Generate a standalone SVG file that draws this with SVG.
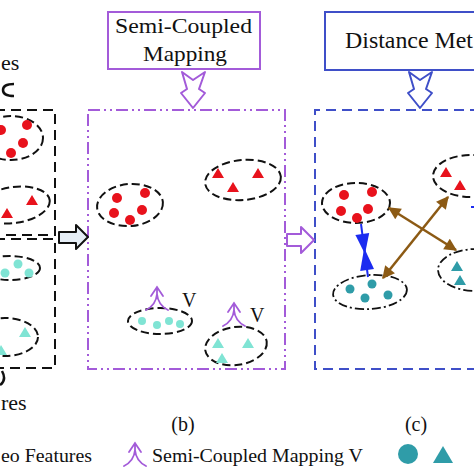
<svg xmlns="http://www.w3.org/2000/svg" width="474" height="474" viewBox="0 0 474 474">
<style>
text{font-family:"Liberation Serif","Times New Roman",serif;fill:#111}
.blob{fill:none;stroke:#111;stroke-width:2;stroke-dasharray:8 4}
.blobdd{fill:none;stroke:#111;stroke-width:1.8;stroke-dasharray:9 3 2 3}
.red{fill:#e8121c}
.cy{fill:#80e4d4}
.teal{fill:#2f9ca8}
.map{fill:none;stroke:#a35bd9;stroke-width:1.8;stroke-linecap:round}
.br{stroke:#8c5a14;stroke-width:2.5;fill:none}
</style>
<defs>
<g id="msym"><path class="map" d="M-6,9 L0,0 L6,9 M0,0 V11 M0,7 Q-1,18 -11,23 M0,7 Q1,18 11,23"/></g>
<polygon id="tri" points="-6,5 6,5 0,-5"/>
<marker id="bh" viewBox="0 0 10 10" refX="9" refY="5" markerWidth="6" markerHeight="5" orient="auto-start-reverse" markerUnits="strokeWidth"><path d="M0,0 L10,5 L0,10 Z" fill="#8c5a14"/></marker>
</defs>

<!-- panel frames -->
<g id="panel-a">
<path d="M-5,110 H55 V235 H-5" fill="none" stroke="#111" stroke-width="2" stroke-dasharray="10 6"/>
<path d="M-5,239 H55 V368 H-5" fill="none" stroke="#111" stroke-width="2" stroke-dasharray="10 6"/>
<text x="1" y="70" font-size="22">es</text>
<path d="M14,84 Q3,84 3,90 Q3,96 14,96" fill="none" stroke="#111" stroke-width="2.5"/>
<path d="M2,371 Q7,380 0,385" fill="none" stroke="#111" stroke-width="2.5"/>
<text x="1" y="410" font-size="22">res</text>
</g>
<g id="a-red-dots">
<ellipse class="blob" cx="11" cy="138" rx="32" ry="22"/>
<circle class="red" cx="1" cy="130" r="5"/><circle class="red" cx="27" cy="125" r="5"/><circle class="red" cx="23" cy="143" r="5"/><circle class="red" cx="11" cy="153" r="5"/>
</g>
<g id="a-red-tri">
<ellipse class="blob" cx="14" cy="205" rx="36" ry="18" transform="rotate(-8 14 205)"/>
<use href="#tri" x="32" y="200" class="red"/><use href="#tri" x="7" y="213" class="red"/>
</g>
<g id="a-cyan-dots">
<ellipse class="blob" cx="10" cy="268" rx="30" ry="12"/>
<circle class="cy" cx="18" cy="264" r="4.5"/><circle class="cy" cx="5" cy="273" r="4.5"/><circle class="cy" cx="29" cy="273" r="4.5"/>
</g>
<g id="a-cyan-tri">
<ellipse class="blob" cx="5" cy="337" rx="33" ry="19"/>
<use href="#tri" x="25" y="332" class="cy"/><use href="#tri" x="1" y="350" class="cy"/>
</g>

<g id="semi-coupled-box">
<rect x="108" y="12" width="152" height="57" fill="#fff" stroke="#a35bd9" stroke-width="2"/>
<text x="115" y="33" font-size="22" textLength="137" lengthAdjust="spacingAndGlyphs">Semi-Coupled</text>
<text x="143" y="61" font-size="22" textLength="84" lengthAdjust="spacingAndGlyphs">Mapping</text>
<path d="M182,72 L193,80 L205,72 L199,89 L205,93 L193,108 L181,93 L187,89 Z" fill="#fff" stroke="#a35bd9" stroke-width="2" stroke-linejoin="round"/>
</g>

<g id="panel-b">
<rect x="88" y="110" width="197" height="259" fill="none" stroke="#a35bd9" stroke-width="2" stroke-dasharray="12 4 2 4 2 4"/>
<text x="183" y="431" font-size="20" text-anchor="middle">(b)</text>
</g>
<g id="b-red-dots">
<ellipse class="blob" cx="130" cy="205" rx="33" ry="21" transform="rotate(-5 130 205)"/>
<circle class="red" cx="117" cy="198" r="5"/><circle class="red" cx="145" cy="193" r="5"/><circle class="red" cx="114" cy="213" r="5"/><circle class="red" cx="142" cy="210" r="5"/><circle class="red" cx="130" cy="220" r="5"/>
</g>
<g id="b-red-tri">
<ellipse class="blob" cx="243" cy="180" rx="38" ry="20" transform="rotate(-5 243 180)"/>
<use href="#tri" x="218" y="173" class="red"/><use href="#tri" x="258" y="173" class="red"/><use href="#tri" x="233" y="187" class="red"/>
</g>
<g id="b-cyan-dots">
<ellipse class="blob" cx="160" cy="321" rx="32" ry="13"/>
<circle class="cy" cx="142" cy="321" r="4"/><circle class="cy" cx="157" cy="325" r="4"/><circle class="cy" cx="169" cy="321" r="4"/><circle class="cy" cx="180" cy="324" r="4"/>
<use href="#msym" x="157" y="287"/>
<text x="182" y="307" font-size="20">V</text>
</g>
<g id="b-cyan-tri">
<ellipse class="blob" cx="236" cy="346" rx="31" ry="19" transform="rotate(-8 236 346)"/>
<use href="#tri" x="218" y="343" class="cy"/><use href="#tri" x="248" y="343" class="cy"/><use href="#tri" x="222" y="358" class="cy"/>
<use href="#msym" x="234" y="303"/>
<text x="250" y="322" font-size="20">V</text>
</g>

<g id="distance-box">
<rect x="325" y="12" width="160" height="58" fill="#fff" stroke="#3f4fc8" stroke-width="2"/>
<text x="345" y="48" font-size="24" textLength="128" lengthAdjust="spacingAndGlyphs">Distance Met</text>
<path d="M409,72 L420,80 L432,72 L426,89 L432,93 L420,108 L408,93 L414,89 Z" fill="#fff" stroke="#3f4fc8" stroke-width="2" stroke-linejoin="round"/>
</g>

<g id="panel-c">
<path d="M480,110 H315 V369 H480" fill="none" stroke="#3f4fc8" stroke-width="2" stroke-dasharray="10 6"/>
<text x="416" y="431" font-size="20" text-anchor="middle">(c)</text>
</g>
<g id="c-red-dots">
<ellipse class="blob" cx="356" cy="203" rx="34" ry="20"/>
<circle class="red" cx="344" cy="195" r="5"/><circle class="red" cx="372" cy="192" r="5"/><circle class="red" cx="341" cy="211" r="5"/><circle class="red" cx="368" cy="209" r="5"/><circle class="red" cx="357" cy="218" r="5"/>
</g>
<g id="c-red-tri">
<ellipse class="blob" cx="471" cy="176" rx="38" ry="21" stroke-dasharray="10 5"/>
<use href="#tri" x="446" y="172" class="red"/><use href="#tri" x="460" y="185" class="red"/>
</g>
<g id="c-teal-tri">
<ellipse class="blobdd" cx="476" cy="270" rx="38" ry="21"/>
<use href="#tri" x="457" y="266" class="teal"/><use href="#tri" x="460" y="280" class="teal"/>
</g>
<g id="c-teal-dots">
<ellipse class="blobdd" cx="370" cy="292" rx="37" ry="17" transform="rotate(-4 370 292)"/>
<circle class="teal" cx="350" cy="289" r="4.5"/><circle class="teal" cx="372" cy="284" r="4.5"/><circle class="teal" cx="365" cy="298" r="4.5"/><circle class="teal" cx="388" cy="295" r="4.5"/>
</g>

<g id="connectors">
<path d="M59,232 H76 V225 L88,237 L76,249 V243 H59 Z" fill="#e6eef6" stroke="#111" stroke-width="2" stroke-linejoin="round"/>
<path d="M287,234 H301 V227 L314,240 L301,253 V246 H287 Z" fill="#fff" stroke="#a35bd9" stroke-width="2" stroke-linejoin="round"/>
<line x1="361" y1="224" x2="368" y2="277" stroke="#1c2cf0" stroke-width="2"/>
<polygon points="355.4,234.9 369.2,233.1 365,254" fill="#1c2cf0"/>
<polygon points="360.2,270.9 374,269 364.2,248" fill="#1c2cf0"/>
<line x1="471" y1="207" x2="474" y2="207" stroke="#1c2cf0" stroke-width="2"/>
<line class="br" x1="389" y1="208" x2="456" y2="250" marker-start="url(#bh)" marker-end="url(#bh)"/>
<line class="br" x1="448" y1="197" x2="383" y2="278" marker-start="url(#bh)" marker-end="url(#bh)"/>
</g>

<g id="legend">
<text x="1" y="462" font-size="19" textLength="91" lengthAdjust="spacingAndGlyphs">eo Features</text>
<use href="#msym" x="135" y="443"/>
<text x="152" y="462" font-size="19" textLength="211" lengthAdjust="spacingAndGlyphs">Semi-Coupled Mapping V</text>
<circle class="teal" cx="408" cy="454" r="10"/>
<polygon class="teal" points="433,463 453,463 443,446"/>
</g>
</svg>
